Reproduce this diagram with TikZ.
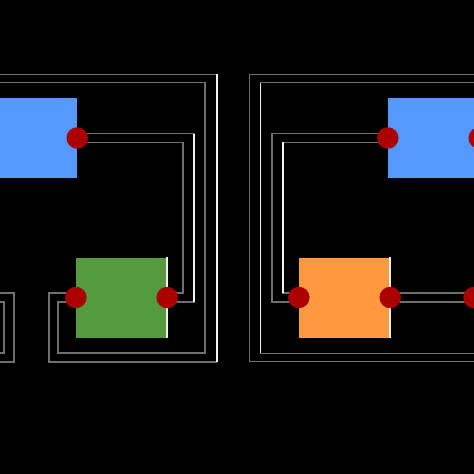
\documentclass[tikz,border=0pt]{standalone}
\usepackage{tikz}

\definecolor{boxBlue}{HTML}{5599FF}
\definecolor{boxGreen}{HTML}{559A3E}
\definecolor{boxOrange}{HTML}{FF9940}
\definecolor{portRed}{HTML}{AA0000}
\definecolor{wireGrey}{HTML}{707070}
\definecolor{glintWhite}{HTML}{F2F2F2}

\begin{document}
\begin{tikzpicture}
[x=1pt,y=-1pt,%
  boxDecorate/.style={shape=rectangle,inner sep=0pt,minimum width=91pt,minimum height=80pt},%
  portDecorate/.style={shape=circle,inner sep=0pt,minimum size=21.5pt,fill=portRed},%
  wireDecorate/.style={-,draw=wireGrey,line width=1.5pt},%
  glintDecorate/.style={-,draw=glintWhite,line width=1.6pt}]
\useasboundingbox (0,0) rectangle (474,474);
\clip (0,0) rectangle (474,474);
\fill[black] (0,0) rectangle (474,474);
%% boxes
\foreach \boxname/\x/\y/\boxcolor in {
  blueA/31.5/138/boxBlue, green/121.5/297.5/boxGreen,
  orange/344.5/297.5/boxOrange, blueB/433.5/138/boxBlue}
{
  \node (\boxname) at (\x,\y) [boxDecorate,fill=\boxcolor] {};
}
%% loose ends outside the frame
\coordinate (offL) at (-20,78.5);
\coordinate (offA) at (-20,297.5);
\coordinate (offB) at (-20,357.5);
\coordinate (offR1) at (500,78.5);
\coordinate (offR2) at (500,357.5);
\coordinate (farE) at (474,297.5);
%% wires, each one a pair of lines
% blueA -> green east
\draw[wireDecorate] ([yshift=4.3]blueA.east) -| (194,301.8) -- ([yshift=-4.3]green.east);
\draw[wireDecorate] ([yshift=-4.3]blueA.east) -| (183,293.2) -- ([yshift=4.3]green.east);
% green west -> round the left frame
\draw[wireDecorate] ([yshift=4.3]green.west) -| (49,362) -| (216.7,74.3) -- ([yshift=4.2]offL);
\draw[wireDecorate] ([yshift=-4.3]green.west) -| (58,353) -| (205,82.7) -- ([yshift=-4.2]offL);
% small loop at the left edge
\draw[wireDecorate] ([yshift=4.3]offA) -| (14,362) -- ([yshift=-4.5]offB);
\draw[wireDecorate] ([yshift=-4.3]offA) -| (4,353) -- ([yshift=4.5]offB);
% orange west -> blueB west
\draw[wireDecorate] ([yshift=-4.3]orange.west) -| (272,133.7) -- ([yshift=4.3]blueB.west);
\draw[wireDecorate] ([yshift=4.3]orange.west) -| (282.7,142.3) -- ([yshift=-4.3]blueB.west);
% right frame
\draw[wireDecorate] ([yshift=4.2]offR1) -| (249.7,361.7) -- ([yshift=-4.2]offR2);
\draw[wireDecorate] ([yshift=-4.2]offR1) -| (260.3,353.3) -- ([yshift=4.2]offR2);
% orange east -> far east
\draw[wireDecorate] ([yshift=4.3]orange.east) -- ([yshift=4.3]farE);
\draw[wireDecorate] ([yshift=-4.3]orange.east) -- ([yshift=-4.3]farE);
%% glints
\draw[glintDecorate] (194,133.7) -- (194,301.8);
\draw[glintDecorate] (216.7,74.3) -- (216.7,362);
\draw[glintDecorate] (282.7,142.3) -- (282.7,293.2);
\draw[glintDecorate] (260.3,82.7) -- (260.3,353.3);
\draw[glintDecorate] (green.north east) -- (green.south east);
\draw[glintDecorate] (orange.north east) -- (orange.south east);
%% ports
\foreach \portname/\anchor in {
  blueAE/blueA.east, greenW/green.west, greenE/green.east,
  orangeW/orange.west, orangeE/orange.east, blueBW/blueB.west,
  blueBE/blueB.east, farEP/farE}
{
  \node (\portname) at (\anchor) [portDecorate] {};
}
\end{tikzpicture}
\end{document}
